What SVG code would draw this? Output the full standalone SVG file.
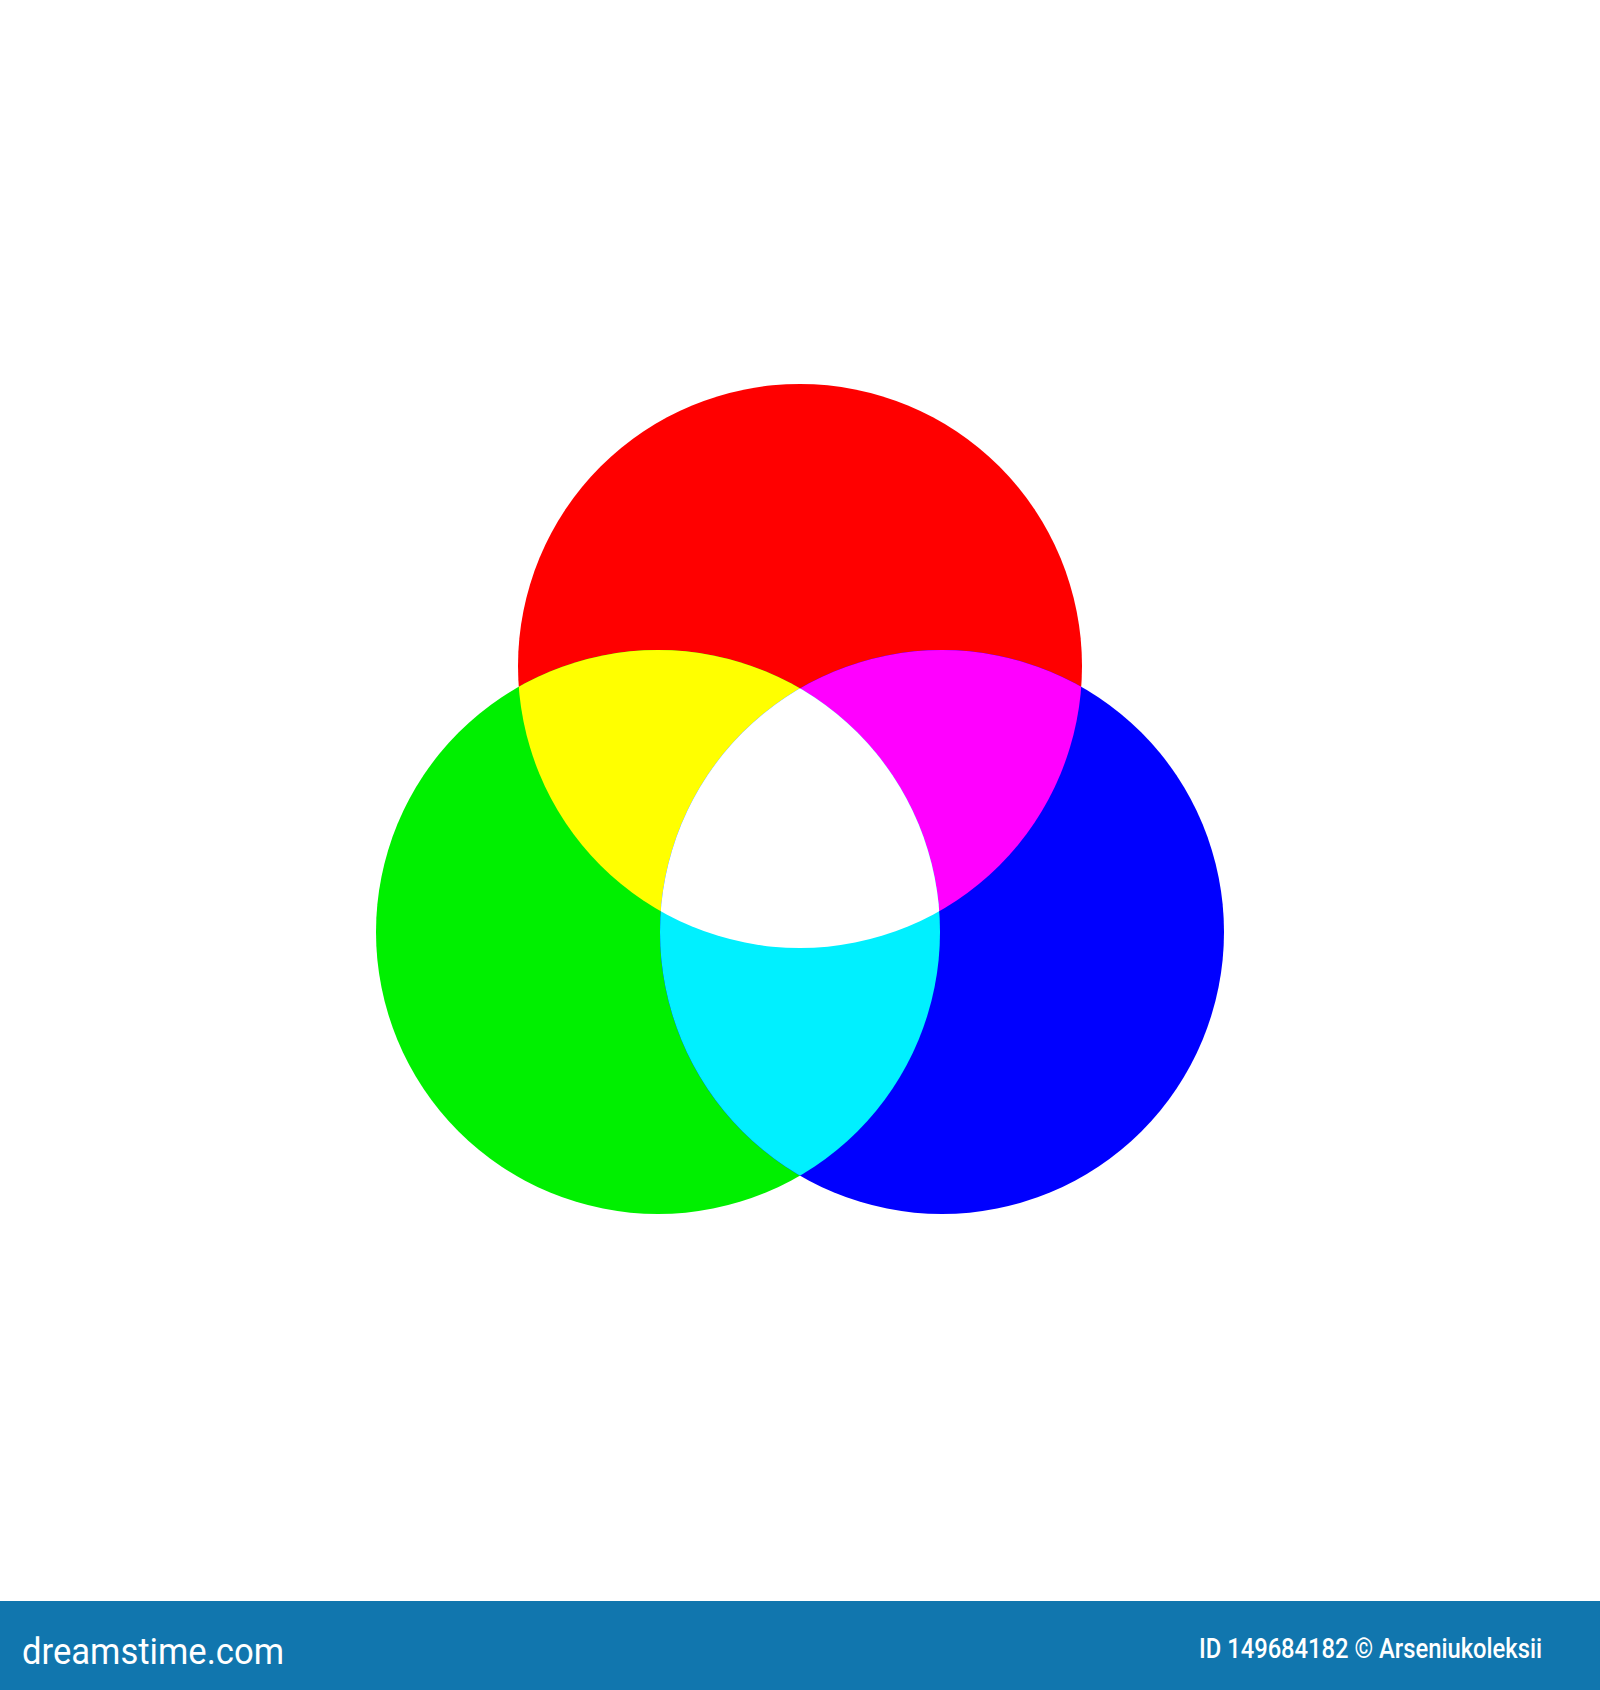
<svg xmlns="http://www.w3.org/2000/svg" width="1600" height="1690" viewBox="0 0 1600 1690">
<defs>
<clipPath id="cR"><circle cx="800" cy="666" r="282"/></clipPath>
<clipPath id="cG"><circle cx="658" cy="932" r="282"/></clipPath>
<clipPath id="cB"><circle cx="942" cy="932" r="282"/></clipPath>
</defs>
<style>
.bt{fill:#ffffff;font-family:Roboto,"Liberation Sans",sans-serif}
</style>
<rect width="1600" height="1690" fill="#ffffff"/>
<g id="red"><circle cx="800" cy="666" r="282" fill="#ff0000"/></g>
<g id="green"><circle cx="658" cy="932" r="282" fill="#00f000"/></g>
<g id="blue"><circle cx="942" cy="932" r="282" fill="#0000ff"/></g>
<g id="yellow" clip-path="url(#cR)"><circle cx="658" cy="932" r="282" fill="#ffff00"/></g>
<g id="magenta" clip-path="url(#cR)"><circle cx="942" cy="932" r="282" fill="#ff00ff"/></g>
<g id="cyan" clip-path="url(#cG)"><circle cx="942" cy="932" r="282" fill="#00f0ff"/></g>
<g id="white" clip-path="url(#cR)"><g clip-path="url(#cG)"><circle cx="942" cy="932" r="282" fill="#ffffff"/></g></g>
<g id="banner">
<rect x="0" y="1601" width="1600" height="89" fill="#1176ae"/>
<text class="bt" x="22" y="1664" font-size="36" textLength="262" lengthAdjust="spacingAndGlyphs">dreamstime.com</text>
<text class="bt" x="1199" y="1658" font-size="27" font-weight="500" textLength="343" lengthAdjust="spacingAndGlyphs">ID 149684182 © Arseniukoleksii</text>
</g>
</svg>
